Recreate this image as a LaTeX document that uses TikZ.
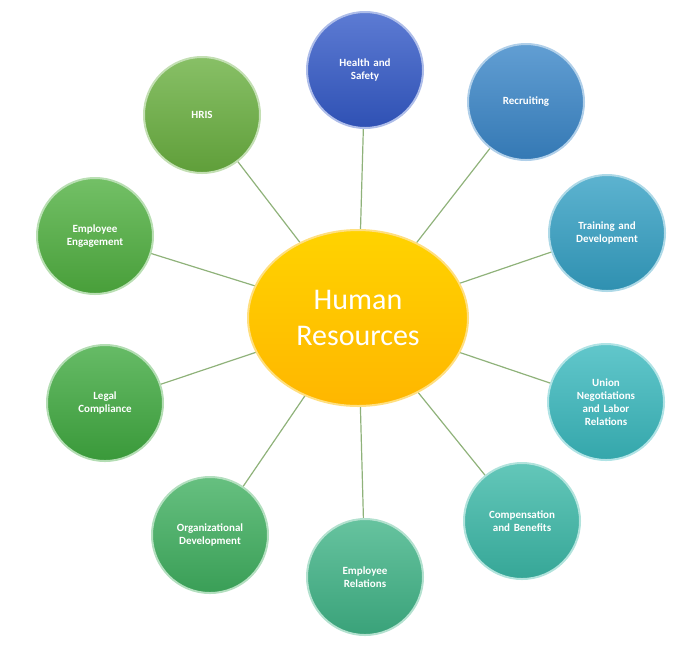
\documentclass[tikz,border=0pt]{standalone}
\usepackage{fontspec}
\setmainfont{Carlito}
\usetikzlibrary{shapes.geometric,backgrounds}
\definecolor{hub}{HTML}{FFC000}
\definecolor{spoke}{HTML}{8FB27A}
\definecolor{cHS}{RGB}{52,90,200}
\definecolor{cRec}{RGB}{58,134,200}
\definecolor{cTD}{RGB}{52,160,196}
\definecolor{cUn}{RGB}{58,185,190}
\definecolor{cCB}{RGB}{60,185,168}
\definecolor{cER}{RGB}{64,180,135}
\definecolor{cOD}{RGB}{64,176,96}
\definecolor{cLC}{RGB}{64,170,64}
\definecolor{cEE}{RGB}{80,176,64}
\definecolor{cHRIS}{RGB}{106,176,64}
\tikzset{
  topic/.style={circle, minimum size=116pt, inner sep=0pt, align=center,
    text width=90pt, font=\bfseries\fontsize{11}{13}\selectfont, text=white,
    draw=#1!40!white, line width=2pt, top color=#1!80!white, bottom color=#1!90!black},
  hubnode/.style={ellipse, minimum width=220pt, minimum height=176pt, align=center,
    font=\fontsize{30}{36}\selectfont, text=white, draw=hub!50!white, line width=2pt,
    top color=hub!70!yellow, bottom color=hub!85!orange}
}
\begin{document}
\begin{tikzpicture}[x=1pt,y=-1pt]
	\useasboundingbox (0,0) rectangle (700,665);
	% centre
	\node[hubnode] (hr) at (358,318) {Human\\Resources};
	% topics
	\node[topic=cHS] (hs) at (365,70) {Health and\\Safety};
	\node[topic=cRec] (rec) at (526,102) {Recruiting};
	\node[topic=cTD] (td) at (607,233) {Training and\\Development};
	\node[topic=cUn] (un) at (606,402) {Union\\Negotiations\\and Labor\\Relations};
	\node[topic=cCB] (cb) at (522,521) {Compensation\\and Benefits};
	\node[topic=cER] (er) at (365,577) {Employee\\Relations};
	\node[topic=cOD] (od) at (210,535) {Organizational\\Development};
	\node[topic=cLC] (lc) at (105,403) {Legal\\Compliance};
	\node[topic=cEE] (ee) at (95,236) {Employee\\Engagement};
	\node[topic=cHRIS] (hris) at (202,115) {HRIS};
	% spokes
	\begin{scope}[on background layer]
	\foreach \t in {hs,rec,td,un,cb,er,od,lc,ee,hris}
		\draw[spoke, line width=1.2pt] (hr.center) -- (\t.center);
	\end{scope}
\end{tikzpicture}
\end{document}
